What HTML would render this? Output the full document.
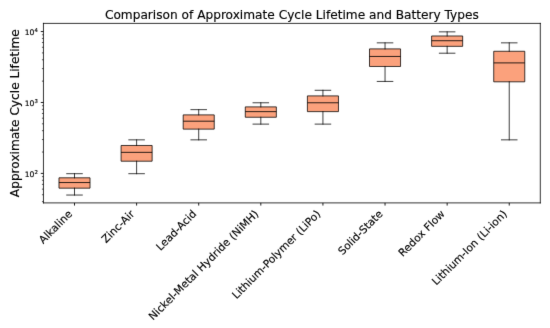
<!DOCTYPE html>
<html><head><meta charset="utf-8"><title>Battery cycle lifetime</title><style>html,body{margin:0;padding:0;background:#fff;width:550px;height:328px;overflow:hidden}svg{display:block}text{stroke:#000;stroke-width:0.15px;paint-order:stroke}</style></head><body>
<svg width="550" height="328" viewBox="0 0 550 328" version="1.1"><defs><filter id="soft" x="0" y="0" width="550" height="328" filterUnits="userSpaceOnUse" color-interpolation-filters="sRGB"><feConvolveMatrix order="3" kernelMatrix="0.00524 0.06192 0.00524 0.06192 0.73137 0.06192 0.00524 0.06192 0.00524" edgeMode="duplicate"/></filter></defs><g filter="url(#soft)"> <defs> <style type="text/css">*{stroke-linejoin: round; stroke-linecap: butt}</style> </defs> <g> <path d="M 0 328  L 550 328  L 550 0  L 0 0  z " style="fill: #ffffff"/> <g> <path d="M 43.45 202.9  L 540.3 202.9  L 540.3 23.4  L 43.45 23.4  z " style="fill: #ffffff"/> <g> <g> <g> <path d="M 0 0  L 0 2.6635  " transform="translate(74.503125 202.9)" style="stroke: #000000; stroke-width: 0.87515"/> </g> <g transform="translate(0.0 0.6)"> <text style="font-size: 10.654px; font-family: 'DejaVu Sans', sans-serif" transform="translate(43.247275 243.640409) rotate(-45)">Alkaline</text> </g> </g> <g> <g> <path d="M 0 0  L 0 2.6635  " transform="translate(136.609375 202.9)" style="stroke: #000000; stroke-width: 0.87515"/> </g> <g transform="translate(0.0 0.6)"> <text style="font-size: 10.654px; font-family: 'DejaVu Sans', sans-serif" transform="translate(105.980925 243.013008) rotate(-45)">Zinc-Air</text> </g> </g> <g> <g> <path d="M 0 0  L 0 2.6635  " transform="translate(198.715625 202.9)" style="stroke: #000000; stroke-width: 0.87515"/> </g> <g transform="translate(0.0 0.6)"> <text style="font-size: 10.654px; font-family: 'DejaVu Sans', sans-serif" transform="translate(160.460668 250.639516) rotate(-45)">Lead-Acid</text> </g> </g> <g> <g> <path d="M 0 0  L 0 2.6635  " transform="translate(260.821875 202.9)" style="stroke: #000000; stroke-width: 0.87515"/> </g> <g transform="translate(0.0 0.6)"> <text style="font-size: 10.654px; font-family: 'DejaVu Sans', sans-serif" transform="translate(152.973713 320.232721) rotate(-45)">Nickel-Metal Hydride (NiMH)</text> </g> </g> <g> <g> <path d="M 0 0  L 0 2.6635  " transform="translate(322.928125 202.9)" style="stroke: #000000; stroke-width: 0.87515"/> </g> <g transform="translate(0.0 0.6)"> <text style="font-size: 10.654px; font-family: 'DejaVu Sans', sans-serif" transform="translate(236.476325 298.836359) rotate(-45)">Lithium-Polymer (LiPo)</text> </g> </g> <g> <g> <path d="M 0 0  L 0 2.6635  " transform="translate(385.034375 202.9)" style="stroke: #000000; stroke-width: 0.87515"/> </g> <g transform="translate(0.0 0.6)"> <text style="font-size: 10.654px; font-family: 'DejaVu Sans', sans-serif" transform="translate(342.447646 254.971287) rotate(-45)">Solid-State</text> </g> </g> <g> <g> <path d="M 0 0  L 0 2.6635  " transform="translate(447.140625 202.9)" style="stroke: #000000; stroke-width: 0.87515"/> </g> <g transform="translate(0.0 0.6)"> <text style="font-size: 10.654px; font-family: 'DejaVu Sans', sans-serif" transform="translate(402.83649 256.688694) rotate(-45)">Redox Flow</text> </g> </g> <g> <g> <path d="M 0 0  L 0 2.6635  " transform="translate(509.246875 202.9)" style="stroke: #000000; stroke-width: 0.87515"/> </g> <g transform="translate(0.0 0.6)"> <text style="font-size: 10.654px; font-family: 'DejaVu Sans', sans-serif" transform="translate(436.374236 285.257197) rotate(-45)">Lithium-Ion (Li-ion)</text> </g> </g> </g> <g> <g> <g> <path d="M 0 0  L -2.6635 0  " transform="translate(43.45 173.392808)" style="stroke: #000000; stroke-width: 0.87515"/> </g> <g transform="translate(0.0 1.2)">  <g transform="translate(24.7294 176.284013)"> <text> <tspan x="0" y="-0.78125" style="font-size: 7.61px; font-family: 'DejaVu Sans', sans-serif">1</tspan> <tspan x="4.851257" y="-0.78125" style="font-size: 7.61px; font-family: 'DejaVu Sans', sans-serif">0</tspan> <tspan x="9.779077" y="-3.84375" style="font-size: 5.327px; font-family: 'DejaVu Sans', sans-serif">2</tspan> </text> </g> </g> </g> <g> <g> <path d="M 0 0  L -2.6635 0  " transform="translate(43.45 102.475949)" style="stroke: #000000; stroke-width: 0.87515"/> </g> <g transform="translate(0.0 1.2)">  <g transform="translate(24.7294 105.367155)"> <text> <tspan x="0" y="-0.78125" style="font-size: 7.61px; font-family: 'DejaVu Sans', sans-serif">1</tspan> <tspan x="4.851257" y="-0.78125" style="font-size: 7.61px; font-family: 'DejaVu Sans', sans-serif">0</tspan> <tspan x="9.779077" y="-3.84375" style="font-size: 5.327px; font-family: 'DejaVu Sans', sans-serif">3</tspan> </text> </g> </g> </g> <g> <g> <path d="M 0 0  L -2.6635 0  " transform="translate(43.45 31.559091)" style="stroke: #000000; stroke-width: 0.87515"/> </g> <g transform="translate(0.0 1.2)">  <g transform="translate(24.7294 34.450296)"> <text> <tspan x="0" y="-0.857813" style="font-size: 7.61px; font-family: 'DejaVu Sans', sans-serif">1</tspan> <tspan x="4.851257" y="-0.857813" style="font-size: 7.61px; font-family: 'DejaVu Sans', sans-serif">0</tspan> <tspan x="9.779077" y="-3.920313" style="font-size: 5.327px; font-family: 'DejaVu Sans', sans-serif">4</tspan> </text> </g> </g> </g> <g> <g> <path d="M 0 0  L -1.522 0  " transform="translate(43.45 201.613463)" style="stroke: #000000; stroke-width: 0.656362"/> </g> </g> <g> <g> <path d="M 0 0  L -1.522 0  " transform="translate(43.45 194.740909)" style="stroke: #000000; stroke-width: 0.656362"/> </g> </g> <g> <g> <path d="M 0 0  L -1.522 0  " transform="translate(43.45 189.125624)" style="stroke: #000000; stroke-width: 0.656362"/> </g> </g> <g> <g> <path d="M 0 0  L -1.522 0  " transform="translate(43.45 184.377968)" style="stroke: #000000; stroke-width: 0.656362"/> </g> </g> <g> <g> <path d="M 0 0  L -1.522 0  " transform="translate(43.45 180.265361)" style="stroke: #000000; stroke-width: 0.656362"/> </g> </g> <g> <g> <path d="M 0 0  L -1.522 0  " transform="translate(43.45 176.637785)" style="stroke: #000000; stroke-width: 0.656362"/> </g> </g> <g> <g> <path d="M 0 0  L -1.522 0  " transform="translate(43.45 152.044706)" style="stroke: #000000; stroke-width: 0.656362"/> </g> </g> <g> <g> <path d="M 0 0  L -1.522 0  " transform="translate(43.45 139.556867)" style="stroke: #000000; stroke-width: 0.656362"/> </g> </g> <g> <g> <path d="M 0 0  L -1.522 0  " transform="translate(43.45 130.696604)" style="stroke: #000000; stroke-width: 0.656362"/> </g> </g> <g> <g> <path d="M 0 0  L -1.522 0  " transform="translate(43.45 123.824051)" style="stroke: #000000; stroke-width: 0.656362"/> </g> </g> <g> <g> <path d="M 0 0  L -1.522 0  " transform="translate(43.45 118.208766)" style="stroke: #000000; stroke-width: 0.656362"/> </g> </g> <g> <g> <path d="M 0 0  L -1.522 0  " transform="translate(43.45 113.46111)" style="stroke: #000000; stroke-width: 0.656362"/> </g> </g> <g> <g> <path d="M 0 0  L -1.522 0  " transform="translate(43.45 109.348503)" style="stroke: #000000; stroke-width: 0.656362"/> </g> </g> <g> <g> <path d="M 0 0  L -1.522 0  " transform="translate(43.45 105.720927)" style="stroke: #000000; stroke-width: 0.656362"/> </g> </g> <g> <g> <path d="M 0 0  L -1.522 0  " transform="translate(43.45 81.127848)" style="stroke: #000000; stroke-width: 0.656362"/> </g> </g> <g> <g> <path d="M 0 0  L -1.522 0  " transform="translate(43.45 68.640009)" style="stroke: #000000; stroke-width: 0.656362"/> </g> </g> <g> <g> <path d="M 0 0  L -1.522 0  " transform="translate(43.45 59.779746)" style="stroke: #000000; stroke-width: 0.656362"/> </g> </g> <g> <g> <path d="M 0 0  L -1.522 0  " transform="translate(43.45 52.907192)" style="stroke: #000000; stroke-width: 0.656362"/> </g> </g> <g> <g> <path d="M 0 0  L -1.522 0  " transform="translate(43.45 47.291907)" style="stroke: #000000; stroke-width: 0.656362"/> </g> </g> <g> <g> <path d="M 0 0  L -1.522 0  " transform="translate(43.45 42.544251)" style="stroke: #000000; stroke-width: 0.656362"/> </g> </g> <g> <g> <path d="M 0 0  L -1.522 0  " transform="translate(43.45 38.431645)" style="stroke: #000000; stroke-width: 0.656362"/> </g> </g> <g> <g> <path d="M 0 0  L -1.522 0  " transform="translate(43.45 34.804068)" style="stroke: #000000; stroke-width: 0.656362"/> </g> </g> <g transform="translate(0.0 0)"> <text style="font-size: 12.176px; font-family: 'DejaVu Sans', sans-serif; text-anchor: middle" x="19.153173" y="113.15" transform="rotate(-90 19.153173 113.15)">Approximate Cycle Lifetime</text> </g> </g> <path d="M 58.976562 188.168355  L 90.029688 188.168355  L 90.029688 177.805414  L 58.976562 177.805414  L 58.976562 188.168355  z " clip-path="url(#pc440248338)" style="fill: #fba17c; stroke: #000000; stroke-width: 0.761; stroke-linejoin: miter"/> <path d="M 74.503125 188.168355  L 74.503125 195.040909  " clip-path="url(#pc440248338)" style="fill: none; stroke: #000000; stroke-width: 0.761; stroke-linecap: square"/> <path d="M 74.503125 177.805414  L 74.503125 173.692808  " clip-path="url(#pc440248338)" style="fill: none; stroke: #000000; stroke-width: 0.761; stroke-linecap: square"/> <path d="M 66.739844 195.040909  L 82.266406 195.040909  " clip-path="url(#pc440248338)" style="fill: none; stroke: #000000; stroke-width: 0.761; stroke-linecap: square"/> <path d="M 66.739844 173.692808  L 82.266406 173.692808  " clip-path="url(#pc440248338)" style="fill: none; stroke: #000000; stroke-width: 0.761; stroke-linecap: square"/>  <path d="M 121.082813 161.204969  L 152.135937 161.204969  L 152.135937 145.472152  L 121.082813 145.472152  L 121.082813 161.204969  z " clip-path="url(#pc440248338)" style="fill: #fba17c; stroke: #000000; stroke-width: 0.761; stroke-linejoin: miter"/> <path d="M 136.609375 161.204969  L 136.609375 173.692808  " clip-path="url(#pc440248338)" style="fill: none; stroke: #000000; stroke-width: 0.761; stroke-linecap: square"/> <path d="M 136.609375 145.472152  L 136.609375 139.856867  " clip-path="url(#pc440248338)" style="fill: none; stroke: #000000; stroke-width: 0.761; stroke-linecap: square"/> <path d="M 128.846094 173.692808  L 144.372656 173.692808  " clip-path="url(#pc440248338)" style="fill: none; stroke: #000000; stroke-width: 0.761; stroke-linecap: square"/> <path d="M 128.846094 139.856867  L 144.372656 139.856867  " clip-path="url(#pc440248338)" style="fill: none; stroke: #000000; stroke-width: 0.761; stroke-linecap: square"/>  <path d="M 183.189062 129.129439  L 214.242187 129.129439  L 214.242187 114.881189  L 183.189062 114.881189  L 183.189062 129.129439  z " clip-path="url(#pc440248338)" style="fill: #fba17c; stroke: #000000; stroke-width: 0.761; stroke-linejoin: miter"/> <path d="M 198.715625 129.129439  L 198.715625 139.856867  " clip-path="url(#pc440248338)" style="fill: none; stroke: #000000; stroke-width: 0.761; stroke-linecap: square"/> <path d="M 198.715625 114.881189  L 198.715625 109.648503  " clip-path="url(#pc440248338)" style="fill: none; stroke: #000000; stroke-width: 0.761; stroke-linecap: square"/> <path d="M 190.952344 139.856867  L 206.478906 139.856867  " clip-path="url(#pc440248338)" style="fill: none; stroke: #000000; stroke-width: 0.761; stroke-linecap: square"/> <path d="M 190.952344 109.648503  L 206.478906 109.648503  " clip-path="url(#pc440248338)" style="fill: none; stroke: #000000; stroke-width: 0.761; stroke-linecap: square"/>  <path d="M 245.295312 117.251497  L 276.348437 117.251497  L 276.348437 106.888556  L 245.295312 106.888556  L 245.295312 117.251497  z " clip-path="url(#pc440248338)" style="fill: #fba17c; stroke: #000000; stroke-width: 0.761; stroke-linejoin: miter"/> <path d="M 260.821875 117.251497  L 260.821875 124.124051  " clip-path="url(#pc440248338)" style="fill: none; stroke: #000000; stroke-width: 0.761; stroke-linecap: square"/> <path d="M 260.821875 106.888556  L 260.821875 102.775949  " clip-path="url(#pc440248338)" style="fill: none; stroke: #000000; stroke-width: 0.761; stroke-linecap: square"/> <path d="M 253.058594 124.124051  L 268.585156 124.124051  " clip-path="url(#pc440248338)" style="fill: none; stroke: #000000; stroke-width: 0.761; stroke-linecap: square"/> <path d="M 253.058594 102.775949  L 268.585156 102.775949  " clip-path="url(#pc440248338)" style="fill: none; stroke: #000000; stroke-width: 0.761; stroke-linecap: square"/>  <path d="M 307.401563 111.636212  L 338.454687 111.636212  L 338.454687 95.903396  L 307.401563 95.903396  L 307.401563 111.636212  z " clip-path="url(#pc440248338)" style="fill: #fba17c; stroke: #000000; stroke-width: 0.761; stroke-linejoin: miter"/> <path d="M 322.928125 111.636212  L 322.928125 124.124051  " clip-path="url(#pc440248338)" style="fill: none; stroke: #000000; stroke-width: 0.761; stroke-linecap: square"/> <path d="M 322.928125 95.903396  L 322.928125 90.28811  " clip-path="url(#pc440248338)" style="fill: none; stroke: #000000; stroke-width: 0.761; stroke-linecap: square"/> <path d="M 315.164844 124.124051  L 330.691406 124.124051  " clip-path="url(#pc440248338)" style="fill: none; stroke: #000000; stroke-width: 0.761; stroke-linecap: square"/> <path d="M 315.164844 90.28811  L 330.691406 90.28811  " clip-path="url(#pc440248338)" style="fill: none; stroke: #000000; stroke-width: 0.761; stroke-linecap: square"/>  <path d="M 369.507812 66.474789  L 400.560938 66.474789  L 400.560938 48.902692  L 369.507812 48.902692  L 369.507812 66.474789  z " clip-path="url(#pc440248338)" style="fill: #fba17c; stroke: #000000; stroke-width: 0.761; stroke-linejoin: miter"/> <path d="M 385.034375 66.474789  L 385.034375 81.427848  " clip-path="url(#pc440248338)" style="fill: none; stroke: #000000; stroke-width: 0.761; stroke-linecap: square"/> <path d="M 385.034375 48.902692  L 385.034375 42.844251  " clip-path="url(#pc440248338)" style="fill: none; stroke: #000000; stroke-width: 0.761; stroke-linecap: square"/> <path d="M 377.271094 81.427848  L 392.797656 81.427848  " clip-path="url(#pc440248338)" style="fill: none; stroke: #000000; stroke-width: 0.761; stroke-linecap: square"/> <path d="M 377.271094 42.844251  L 392.797656 42.844251  " clip-path="url(#pc440248338)" style="fill: none; stroke: #000000; stroke-width: 0.761; stroke-linecap: square"/>  <path d="M 431.614062 46.334639  L 462.667188 46.334639  L 462.667188 35.971698  L 431.614062 35.971698  L 431.614062 46.334639  z " clip-path="url(#pc440248338)" style="fill: #fba17c; stroke: #000000; stroke-width: 0.761; stroke-linejoin: miter"/> <path d="M 447.140625 46.334639  L 447.140625 53.207192  " clip-path="url(#pc440248338)" style="fill: none; stroke: #000000; stroke-width: 0.761; stroke-linecap: square"/> <path d="M 447.140625 35.971698  L 447.140625 31.859091  " clip-path="url(#pc440248338)" style="fill: none; stroke: #000000; stroke-width: 0.761; stroke-linecap: square"/> <path d="M 439.377344 53.207192  L 454.903906 53.207192  " clip-path="url(#pc440248338)" style="fill: none; stroke: #000000; stroke-width: 0.761; stroke-linecap: square"/> <path d="M 439.377344 31.859091  L 454.903906 31.859091  " clip-path="url(#pc440248338)" style="fill: none; stroke: #000000; stroke-width: 0.761; stroke-linecap: square"/>  <path d="M 493.720312 81.815259  L 524.773438 81.815259  L 524.773438 51.267644  L 493.720312 51.267644  L 493.720312 81.815259  z " clip-path="url(#pc440248338)" style="fill: #fba17c; stroke: #000000; stroke-width: 0.761; stroke-linejoin: miter"/> <path d="M 509.246875 81.815259  L 509.246875 139.856867  " clip-path="url(#pc440248338)" style="fill: none; stroke: #000000; stroke-width: 0.761; stroke-linecap: square"/> <path d="M 509.246875 51.267644  L 509.246875 42.844251  " clip-path="url(#pc440248338)" style="fill: none; stroke: #000000; stroke-width: 0.761; stroke-linecap: square"/> <path d="M 501.483594 139.856867  L 517.010156 139.856867  " clip-path="url(#pc440248338)" style="fill: none; stroke: #000000; stroke-width: 0.761; stroke-linecap: square"/> <path d="M 501.483594 42.844251  L 517.010156 42.844251  " clip-path="url(#pc440248338)" style="fill: none; stroke: #000000; stroke-width: 0.761; stroke-linecap: square"/>  <path d="M 58.976562 182.55307  L 90.029688 182.55307  " clip-path="url(#pc440248338)" style="fill: none; stroke: #000000; stroke-width: 0.8371"/> <path d="M 121.082813 152.344706  L 152.135937 152.344706  " clip-path="url(#pc440248338)" style="fill: none; stroke: #000000; stroke-width: 0.8371"/> <path d="M 183.189062 121.188612  L 214.242187 121.188612  " clip-path="url(#pc440248338)" style="fill: none; stroke: #000000; stroke-width: 0.8371"/> <path d="M 245.295312 111.636212  L 276.348437 111.636212  " clip-path="url(#pc440248338)" style="fill: none; stroke: #000000; stroke-width: 0.8371"/> <path d="M 307.401563 102.775949  L 338.454687 102.775949  " clip-path="url(#pc440248338)" style="fill: none; stroke: #000000; stroke-width: 0.8371"/> <path d="M 369.507812 56.45217  L 400.560938 56.45217  " clip-path="url(#pc440248338)" style="fill: none; stroke: #000000; stroke-width: 0.8371"/> <path d="M 431.614062 40.719354  L 462.667188 40.719354  " clip-path="url(#pc440248338)" style="fill: none; stroke: #000000; stroke-width: 0.8371"/> <path d="M 493.720312 62.899906  L 524.773438 62.899906  " clip-path="url(#pc440248338)" style="fill: none; stroke: #000000; stroke-width: 0.8371"/> <path d="M 43.45 202.9  L 43.45 23.4  " style="fill: none; stroke: #000000; stroke-width: 0.79905; stroke-linejoin: miter; stroke-linecap: square"/> <path d="M 540.3 202.9  L 540.3 23.4  " style="fill: none; stroke: #000000; stroke-width: 0.79905; stroke-linejoin: miter; stroke-linecap: square"/> <path d="M 43.45 202.9  L 540.3 202.9  " style="fill: none; stroke: #000000; stroke-width: 0.79905; stroke-linejoin: miter; stroke-linecap: square"/> <path d="M 43.45 23.4  L 540.3 23.4  " style="fill: none; stroke: #000000; stroke-width: 0.79905; stroke-linejoin: miter; stroke-linecap: square"/> <g transform="translate(0 0.0)"> <text style="font-size: 12.176px; font-family: 'DejaVu Sans', sans-serif; text-anchor: middle" x="291.875" y="18.834" transform="rotate(-0 291.875 18.834)">Comparison of Approximate Cycle Lifetime and Battery Types</text> </g> </g> </g> <defs> <clipPath> <rect x="43.45" y="23.4" width="496.85" height="179.5"/> </clipPath> </defs> </g></svg> 
</body></html>
